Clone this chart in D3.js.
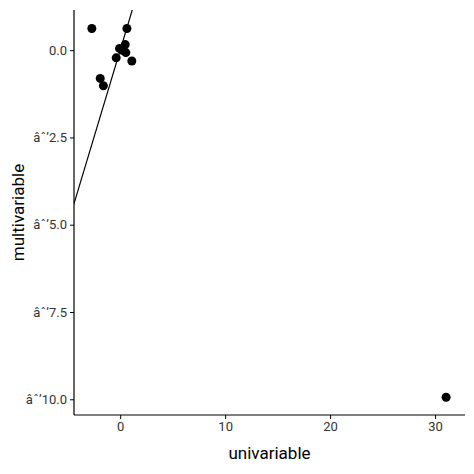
<!DOCTYPE html><html><head><script src="https://cdn.jsdelivr.net/npm/d3@7"></script>
<style>body{margin:0}text{font-family:"Liberation Sans Narrow","Roboto",sans-serif}</style></head><body><svg id="c" width="474" height="474"></svg>
<script>
const univariable=[-2.7,0.64,0.48,-0.06,0.16,0.54,-0.38,1.11,-1.9,-1.6,31.05];
const multivariable=[0.62,0.62,0.16,0.05,0,-0.07,-0.22,-0.31,-0.81,-1.02,-9.94];
const xTicks=[0,10,20,30], yTicks=[0,-2.5,-5,-7.5,-10];
const svg=d3.select("#c");
const L=74,R=465,T=10,B=415;
const x=d3.scaleLinear().domain([-4.4,32.85]).range([L,R]);
const y=d3.scaleLinear().domain([-10.45,1.15]).range([B,T]);
svg.append("defs").append("clipPath").attr("id","cp").append("rect").attr("x",L).attr("y",T).attr("width",R-L).attr("height",B-T);
svg.append("line").attr("clip-path","url(#cp)").attr("x1",x(-20)).attr("y1",y(-20)).attr("x2",x(5)).attr("y2",y(5)).attr("stroke","#000").attr("stroke-width",1.2);
svg.selectAll("circle").data(univariable).enter().append("circle").attr("cx",d=>x(d)).attr("cy",(d,i)=>y(multivariable[i])).attr("r",4.5).attr("fill","#000");
const gx=svg.append("g").attr("transform",`translate(0,${B})`).call(d3.axisBottom(x).tickValues(xTicks).tickSize(4).tickFormat(d3.format("d")));
const gy=svg.append("g").attr("transform",`translate(${L},0)`).call(d3.axisLeft(y).tickValues(yTicks).tickSize(4).tickFormat(d3.format(".1f")));
[gx,gy].forEach(g=>{g.select(".domain").attr("d",g===gx?`M${L},0H${R}`:`M0,${T}V${B}`).attr("stroke-width",1.2);g.selectAll("text").attr("font-size",13).attr("fill","#333");});
svg.append("text").attr("x",(L+R)/2).attr("y",459).attr("text-anchor","middle").attr("font-size",17).text("univariable");
svg.append("text").attr("transform",`translate(24,${(T+B)/2}) rotate(-90)`).attr("text-anchor","middle").attr("font-size",17).text("multivariable");
</script></body></html>
